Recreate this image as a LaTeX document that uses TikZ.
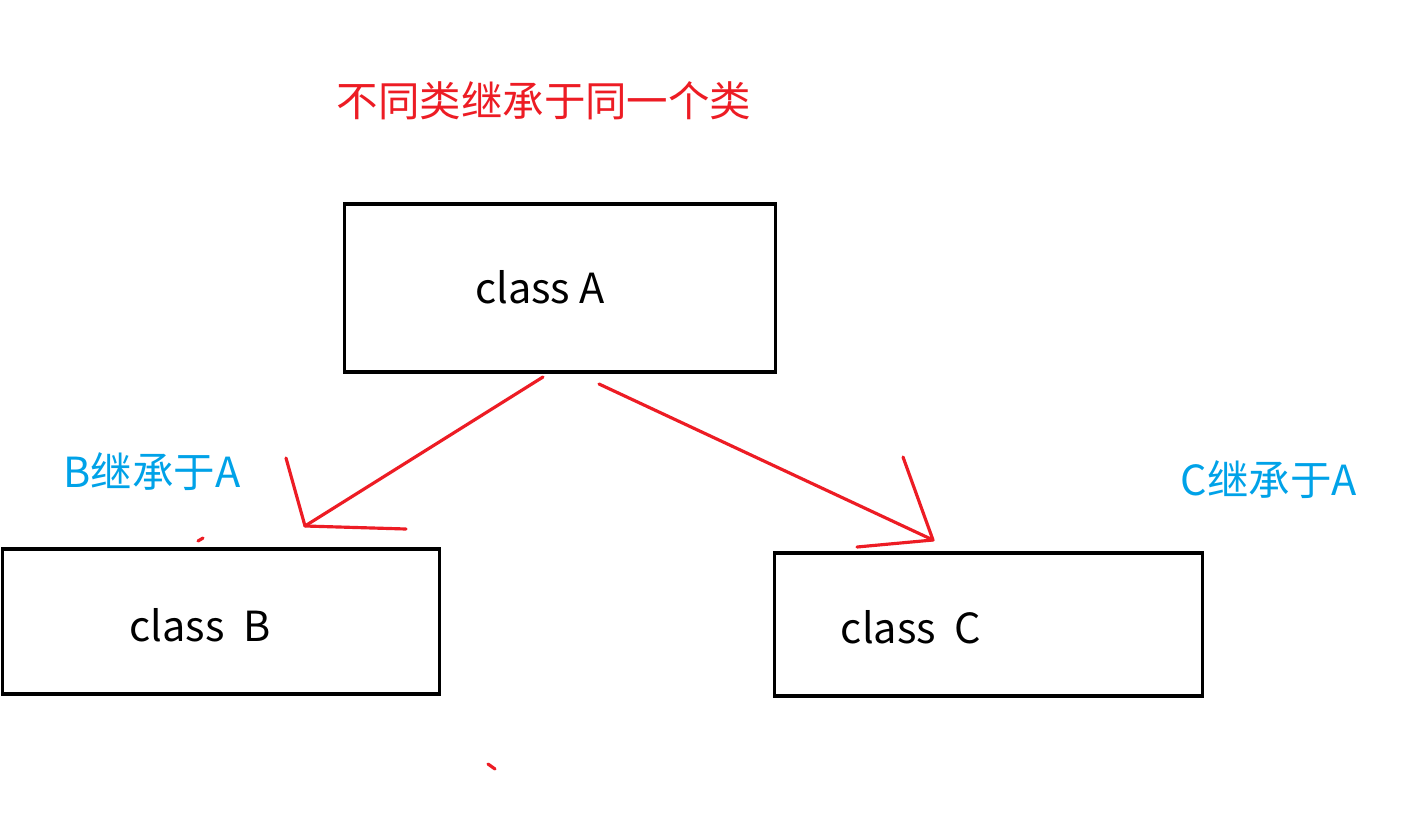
\documentclass[tikz,border=0pt]{standalone}
\usepackage{fontspec}
\setmainfont{Noto Sans CJK SC}
\definecolor{myred}{RGB}{237,28,36}
\definecolor{myblue}{RGB}{0,162,232}
\begin{document}
\begin{tikzpicture}[x=0.01cm,y=-0.01cm,
  box/.style={draw=black,line width=0.9pt,inner sep=0pt,outer sep=0pt},
  lbl/.style={inner sep=0pt,font=\fontsize{11.8}{14}\selectfont},
  redtxt/.style={lbl,text=myred},
  bluetxt/.style={lbl,text=myblue},
  arr/.style={draw=myred,line width=0.9pt,line cap=round,line join=round}]
\useasboundingbox[fill=white] (0,0) rectangle (1427,815);
% title
\node[redtxt] (title) at (544,101) {不同类继承于同一个类};
% boxes
\node[box,minimum width=4.30cm,minimum height=1.68cm] (A) at (560,288) {};
\node[box,minimum width=4.36cm,minimum height=1.45cm] (B) at (221,621.5) {};
\node[box,minimum width=4.27cm,minimum height=1.43cm] (C) at (988.5,624.5) {};
\node[lbl] (tA) at (540,287) {class A};
\node[lbl] (tB) at (200,625) {class\ \ B};
\node[lbl] (tC) at (911,627) {class\ \ C};
% blue labels
\node[bluetxt] (lB) at (152,472) {B继承于A};
\node[bluetxt] (lC) at (1269,480) {C继承于A};
% arrow A -> B
\coordinate (sAB) at (543,377);
\coordinate (tipB) at (305,526);
\coordinate (bB1) at (286,458);
\coordinate (bB2) at (406,529);
\draw[arr] (sAB) -- (tipB);
\draw[arr] (bB1) -- (tipB) -- (bB2);
% arrow A -> C
\coordinate (sAC) at (599,384);
\coordinate (tipC) at (933,540);
\coordinate (bC1) at (903,457);
\coordinate (bC2) at (857,547);
\draw[arr] (sAC) -- (tipC);
\draw[arr] (bC1) -- (tipC) -- (bC2);
% small specks
\coordinate (s1a) at (198,541);
\coordinate (s1b) at (203,538);
\draw[arr] (s1a) -- (s1b);
\coordinate (s2a) at (488,764);
\coordinate (s2b) at (495,769);
\draw[arr] (s2a) -- (s2b);
\end{tikzpicture}
\end{document}
